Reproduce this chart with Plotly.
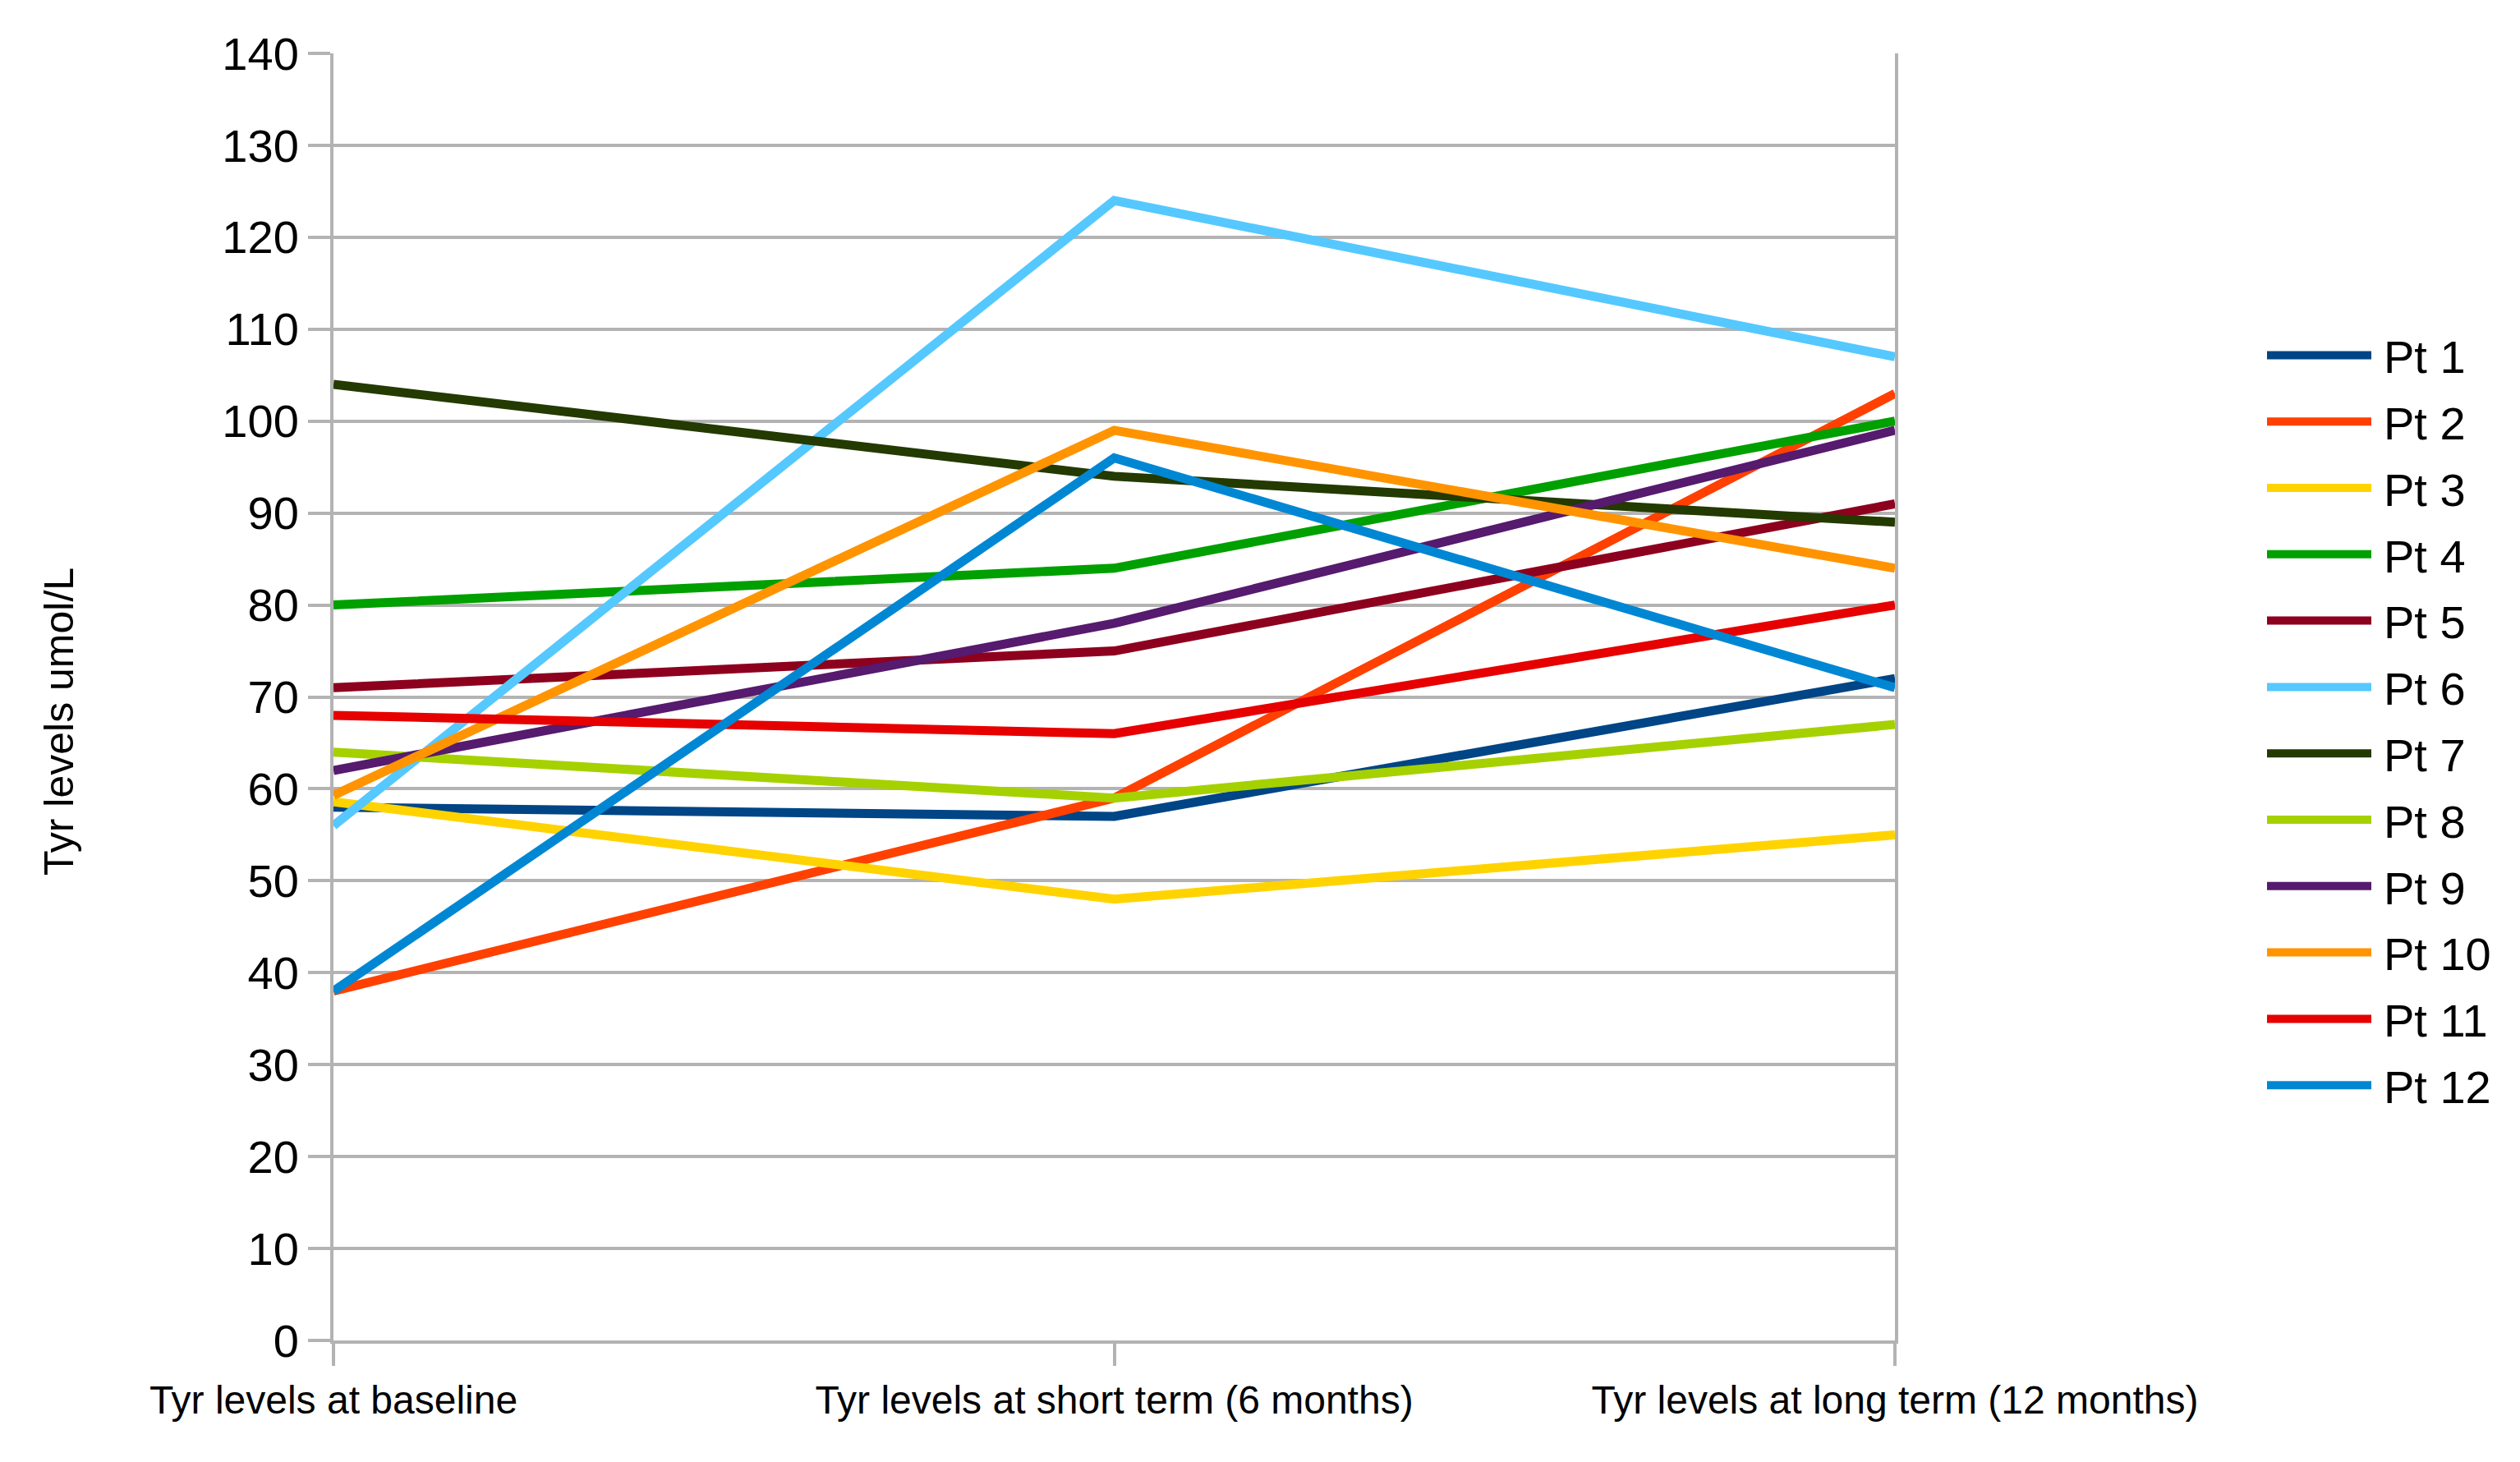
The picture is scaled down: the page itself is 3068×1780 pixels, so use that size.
import plotly.graph_objects as go

categories = ["Tyr levels at baseline", "Tyr levels at short term (6 months)", "Tyr levels at long term (12 months)"]

pt1 = [58, 57, 72]
pt2 = [38, 59, 103]
pt3 = [58.6, 48, 55]
pt4 = [80, 84, 100]
pt5 = [71, 75, 91]
pt6 = [56, 124, 107]
pt7 = [104, 94, 89]
pt8 = [64, 59, 67]
pt9 = [62, 78, 99]
pt10 = [59.3, 99, 84]
pt11 = [68, 66, 80]
pt12 = [38, 96, 71]

series_names = ["Pt 1", "Pt 2", "Pt 3", "Pt 4", "Pt 5", "Pt 6", "Pt 7", "Pt 8", "Pt 9", "Pt 10", "Pt 11", "Pt 12"]
series_values = [pt1, pt2, pt3, pt4, pt5, pt6, pt7, pt8, pt9, pt10, pt11, pt12]
colors = ["#004586", "#ff4000", "#ffd300", "#00a000", "#8d001e", "#55c8ff",
          "#233a00", "#a5d100", "#561a6e", "#ff9400", "#e60000", "#0087d4"]

y_ticks = list(range(0, 141, 10))

# page body has an 8px margin; compensate so the plot lands where the reference has it
OFF = 8
W, H = 3068, 1780
L, R, T, B = 406 - OFF, 2307 - OFF, 65 - OFF, 1632 - OFF

fig = go.Figure()
for i, (name, vals, col) in enumerate(zip(series_names, series_values, colors)):
    fig.add_trace(go.Scatter(
        x=categories, y=vals, mode="lines", name=name,
        legendgroup=name,
        line=dict(color=col, width=11),
    ))

grid = "#b3b3b3"
ITEMW = 132
fig.update_layout(
    width=W, height=H,
    margin=dict(l=L, r=W - R, t=T, b=H - B, pad=0),
    paper_bgcolor="white", plot_bgcolor="white",
    font=dict(family="Liberation Sans", color="#000000", size=56),
    showlegend=True,
    legend=dict(
        xref="container", yref="container",
        x=(2902 - OFF - ITEMW - 10) / W, y=1 - (877 - OFF) / H,
        xanchor="left", yanchor="middle",
        font=dict(size=56, family="Liberation Sans", color="#000000"),
        tracegroupgap=5, bgcolor="rgba(0,0,0,0)", borderwidth=0,
        itemwidth=ITEMW, maxheight=1700,
    ),
    xaxis=dict(
        type="category", range=[0, 2],
        showgrid=False, zeroline=False,
        showline=True, linecolor=grid, linewidth=4,
        ticks="outside", ticklen=27, tickwidth=4, tickcolor=grid,
        tickfont=dict(size=48, family="Liberation Sans", color="#000000"),
    ),
    yaxis=dict(
        range=[0, 140], tickvals=y_ticks, ticktext=[str(v) for v in y_ticks],
        showgrid=True, gridcolor=grid, gridwidth=4,
        zeroline=False,
        showline=True, linecolor=grid, linewidth=4, mirror=True,
        ticks="outside", ticklen=27, tickwidth=4, tickcolor=grid,
        tickfont=dict(size=56, family="Liberation Sans", color="#000000"),
    ),
    annotations=[dict(
        text="Tyr levels umol/L", textangle=-90,
        xref="paper", yref="paper",
        x=(72 - OFF - L) / (R - L), y=(B - (879 - OFF)) / (B - T),
        xanchor="center", yanchor="middle", showarrow=False,
        font=dict(size=50, family="Liberation Sans", color="#000000"),
    )],
)

# lengthen the legend line samples to span the item width (as in the reference)
post = """
var gd = document.getElementById('{plot_id}');
function fixLegend(){
  var ps = gd.querySelectorAll('.legend .legendlines path');
  ps.forEach(function(p){ p.setAttribute('d', 'M0,0h%d'); });
}
fixLegend();
gd.on('plotly_afterplot', fixLegend);
""" % (ITEMW - 5)

fig.write_html("out.html", post_script=post)
